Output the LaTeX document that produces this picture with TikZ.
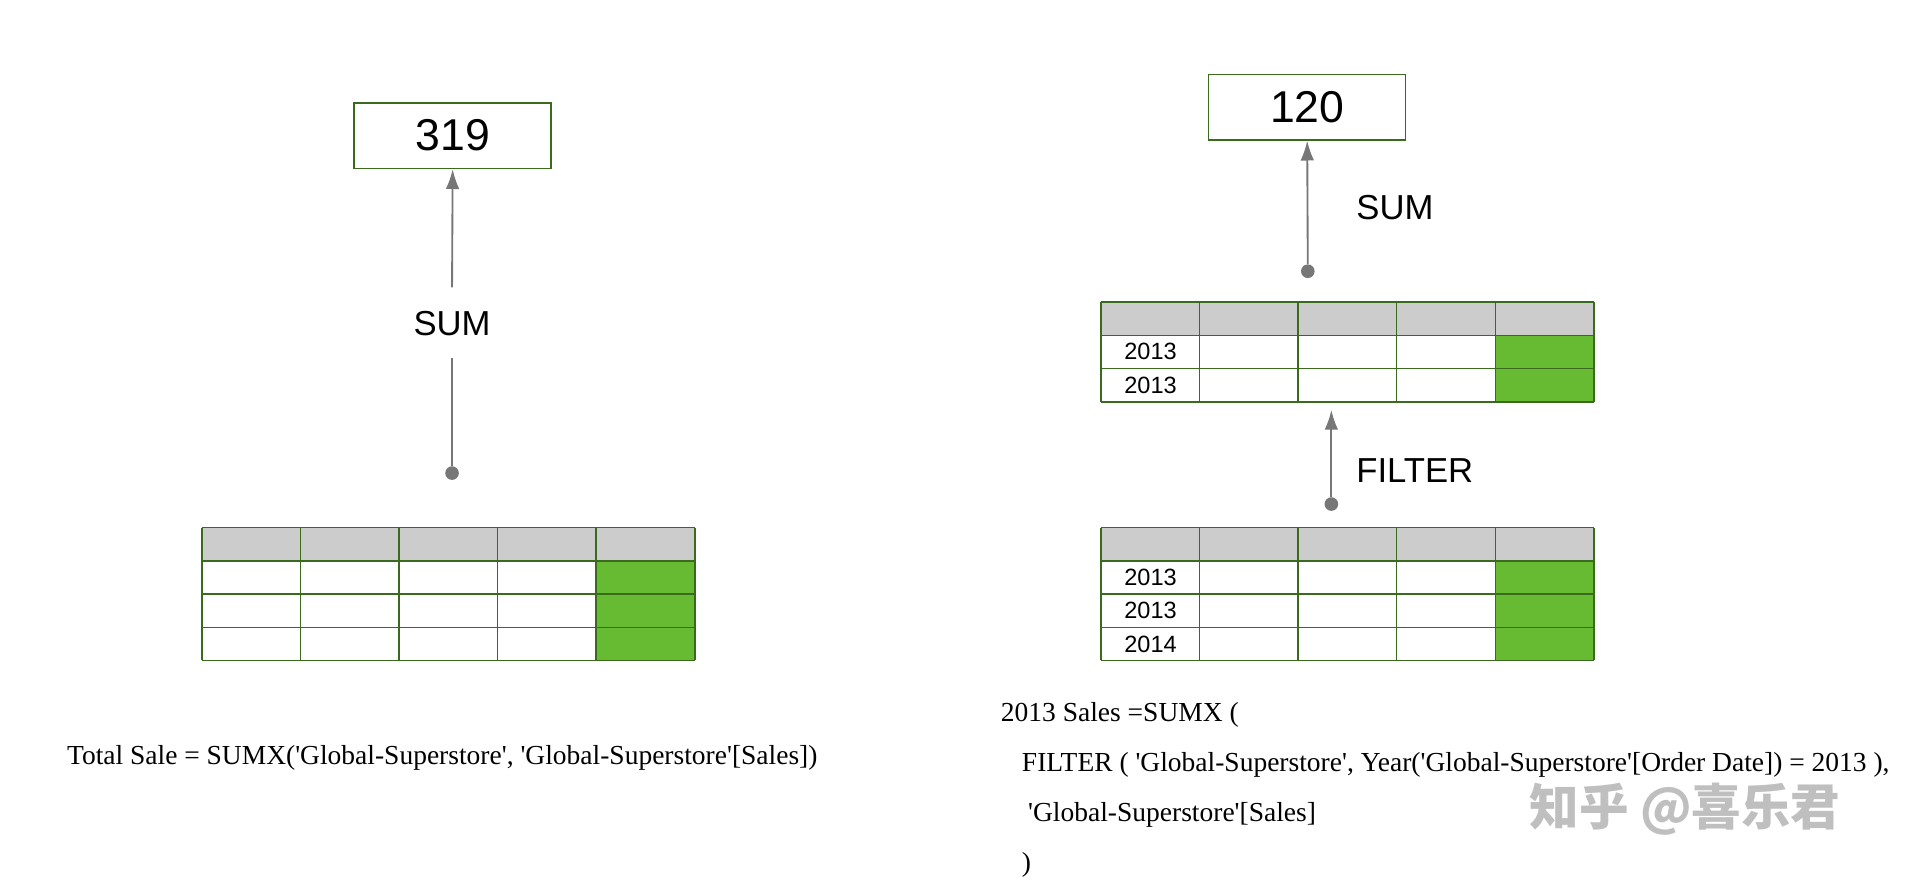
\documentclass[tikz,border=0pt]{standalone}
\usepackage{fontspec}
\setmainfont{Liberation Serif}
\setsansfont{Liberation Sans}
\newfontfamily\cjk{Noto Sans CJK SC}
\usetikzlibrary{arrows.meta}
\definecolor{gborder}{HTML}{3A6A1E}
\definecolor{gfill}{HTML}{66BB33}
\definecolor{hdr}{HTML}{CCCCCC}
\definecolor{arr}{HTML}{777777}
\newcommand{\sq}{\textquotesingle}
\tikzset{
 valbox/.style={draw=gborder,line width=1.2pt,minimum width=159pt,minimum height=53pt,inner sep=0pt,font=\sffamily\fontsize{36}{40}\selectfont},
 lbl/.style={font=\sffamily\fontsize{28}{32}\selectfont,inner sep=0pt},
 yr/.style={font=\sffamily\fontsize{19}{22}\selectfont,inner sep=0pt},
 frm/.style={font=\fontsize{22.2}{26}\selectfont,anchor=west,inner sep=0pt},
 conn/.style={draw=arr,line width=1.5pt,-{Latex[length=16pt,width=11pt]}},
 dot/.style={circle,fill=arr,inner sep=0pt,minimum size=11pt},
 cell/.style={draw=gborder,line width=1.2pt}
}
\newcommand{\tbl}[4]{% x0, y0, rows, name
 \fill[hdr] (#1,#2) rectangle ++(398,27);
 \foreach \r in {1,...,#3}{
   \fill[gfill] (#1+4*79.6,#2+27+\r*26.75-26.75) rectangle ++(79.6,26.75);
 }
 \foreach \c in {0,...,5}{\draw[cell] (#1+\c*79.6,#2) -- (#1+\c*79.6,#2+27+#3*26.75);}
 \draw[cell] (#1,#2) -- (#1+398,#2);
 \foreach \r in {0,...,#3}{\draw[cell] (#1,#2+27+\r*26.75) -- (#1+398,#2+27+\r*26.75);}
 \coordinate (#4) at (#1,#2);
}
\begin{document}
\begin{tikzpicture}[x=1pt,y=-1pt]
\useasboundingbox (0,0) rectangle (1560,714);
% left
\node[valbox] (v319) at (365.5,109.5) {319};
\tbl{163}{426}{3}{tl}
\node[dot] (d1) at (365,382) {};
\node[lbl] (s1) at (365,261) {SUM};
\draw[draw=arr,line width=1.5pt] (d1) -- (365,289);
\draw[conn] (365,232) -- (v319.south);
\node[frm] (f1) at (54,612) {Total Sale = SUMX(\sq Global-Superstore\sq, \sq Global-Superstore\sq[Sales])};
% right
\node[valbox] (v120) at (1055.5,86.5) {120};
\tbl{889}{244}{2}{tr}
\tbl{889}{426}{3}{br}
\node[yr] at (929,284) {2013};
\node[yr] at (929,311) {2013};
\node[yr] at (929,466) {2013};
\node[yr] at (929,493) {2013};
\node[yr] at (929,520) {2014};
\node[dot] (d2) at (1056,219) {};
\draw[conn] (d2) -- (v120.south);
\node[lbl,anchor=west] (s2) at (1095,168) {SUM};
\node[dot] (d3) at (1075,407) {};
\coordinate (t3) at (1075,331);
\draw[conn] (d3) -- (t3);
\node[lbl,anchor=west] (fl) at (1095,380) {FILTER};
\node[frm] at (808,577) {2013 Sales =SUMX (};
\node[frm] at (825,618) {FILTER ( \sq Global-Superstore\sq, Year(\sq Global-Superstore\sq[Order Date]) = 2013 ),};
\node[frm] at (830,658) {\sq Global-Superstore\sq[Sales]};
\node[frm] at (825,698) {)};
\node[anchor=west,inner sep=0pt,text=black!25,font=\cjk\bfseries\fontsize{40}{44}\selectfont] at (1235,653) {知乎 @喜乐君};
\end{tikzpicture}
\end{document}
